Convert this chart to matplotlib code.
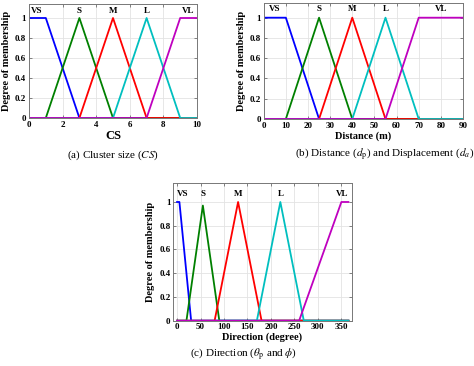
import matplotlib
matplotlib.use("Agg")
import matplotlib.pyplot as plt

plt.rcParams['font.family'] = ['Liberation Serif', 'DejaVu Serif']
plt.rcParams['mathtext.fontset'] = 'stix'

# ---- data ----
labels = ["VS", "S", "M", "L", "VL"]
colors = ["#0000ff", "#008000", "#ff0000", "#00bfbf", "#bf00bf"]

# (a) cluster size
cs_x = [[0, 1, 3, 10], [0, 1, 3, 5, 10], [0, 3, 5, 7, 10], [0, 5, 7, 9, 10], [0, 7, 9, 10]]
cs_y = [[1, 1, 0, 0], [0, 0, 1, 0, 0], [0, 0, 1, 0, 0], [0, 0, 1, 0, 0], [0, 0, 1, 1]]
cs_lbl_x = [0.45, 3, 5, 7, 9.45]
cs_ticks = [0, 2, 4, 6, 8, 10]

# (b) distance
d_x = [[0, 10, 25, 90], [0, 10, 25, 40, 90], [0, 25, 40, 55, 90], [0, 40, 55, 70, 90], [0, 55, 70, 90]]
d_y = [[1, 1, 0, 0], [0, 0, 1, 0, 0], [0, 0, 1, 0, 0], [0, 0, 1, 0, 0], [0, 0, 1, 1]]
d_lbl_x = [5, 25, 40, 55, 80]
d_ticks = [0, 10, 20, 30, 40, 50, 60, 70, 80, 90]

# (c) direction
a_x = [[0, 5, 30, 365], [0, 20, 55, 90, 365], [0, 80, 130, 180, 365], [0, 170, 220, 270, 365], [0, 260, 350, 365]]
a_y = [[1, 1, 0, 0], [0, 0, 0.97, 0, 0], [0, 0, 1, 0, 0], [0, 0, 1, 0, 0], [0, 0, 1, 1]]
a_lbl_x = [11, 56, 130, 222, 352]
a_ticks = [0, 50, 100, 150, 200, 250, 300, 350]

yticks = [0, 0.2, 0.4, 0.6, 0.8, 1]
ytick_lbls = ["0", "0.2", "0.4", "0.6", "0.8", "1"]

W, H = 474, 366
fig = plt.figure(figsize=(W / 100, H / 100), dpi=100)


def make_ax(l, r, t, b, xs, ys, lx, ly, xticks, xlim, ylim, xlabel, caption, cap_x, cap_y):
    ax = fig.add_axes([l / W, 1 - b / H, (r - l) / W, (b - t) / H])
    for x, y, c in zip(xs, ys, colors):
        ax.plot(x, y, color=c, lw=1.3, clip_on=True)
    for x, t_, in zip(lx, labels):
        ax.text(x, ly, t_, ha='center', va='center', fontsize=6.5, fontweight='bold')
    ax.set_xlim(*xlim)
    ax.set_ylim(*ylim)
    ax.set_xticks(xticks)
    ax.set_yticks(yticks)
    ax.set_yticklabels(ytick_lbls)
    ax.grid(True, color='#e3e3e3', lw=0.6)
    ax.set_axisbelow(True)
    ax.tick_params(direction='in', length=2, width=0.5, labelsize=6.5, pad=2,
                   top=True, right=True, colors='#555555', labelcolor='black')
    for lab in ax.get_xticklabels() + ax.get_yticklabels():
        lab.set_fontweight('bold')
    for s in ax.spines.values():
        s.set_color('#777777')
        s.set_linewidth(0.7)
    ax.set_ylabel("Degree of membership", fontsize=7.5, fontweight='bold', labelpad=3)
    ax.set_xlabel(xlabel, fontsize=7.5 if xlabel != "CS" else 9, fontweight='bold', labelpad=1)
    fig.text(cap_x / W, 1 - cap_y / H, caption, ha='center', va='center', fontsize=8)
    return ax


make_ax(29, 197, 4, 118, cs_x, cs_y, cs_lbl_x, 1.07, cs_ticks, (0, 10), (0, 1.14), "CS",
        "(a) Cluster size ($CS$)", 113, 155)
make_ax(263.7, 463, 3, 119, d_x, d_y, d_lbl_x, 1.086, d_ticks, (0, 90), (0, 1.145), "Distance (m)",
        "(b) Distance ($d_\\mathrm{p}$) and Displacement ($d_a$)", 385, 154)
make_ax(173.3, 351.7, 183, 320.7, a_x, a_y, a_lbl_x, 1.065, a_ticks, (-8, 372), (0, 1.16),
        "Direction (degree)", "(c) Direction ($\\theta_\\mathrm{p}$ and $\\phi$)", 244, 354)

fig.savefig("out.png", dpi=100)
